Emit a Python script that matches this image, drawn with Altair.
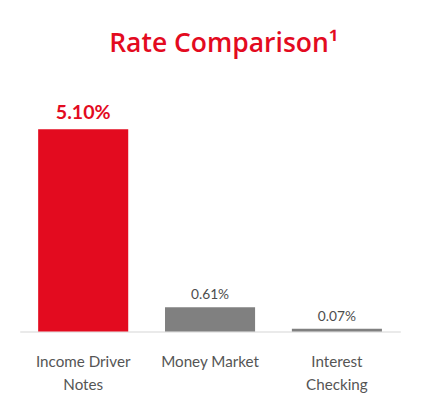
import altair as alt
import pandas as pd

categories = ["Income Driver\nNotes", "Money Market", "Interest\nChecking"]
rates = [5.10, 0.61, 0.07]
rate_labels = ["5.10%", "0.61%", "0.07%"]
bar_colors = ["#E30B1F", "#808080", "#808080"]

df = pd.DataFrame({
    "cat": categories,
    "rate": rates,
    "label": rate_labels,
    "bcolor": bar_colors,
    "order": [0, 1, 2],
})

FONT = "Lato"

x = alt.X("cat:N", sort=categories, title=None,
          scale=alt.Scale(paddingInner=0.29, paddingOuter=0.145),
          axis=alt.Axis(labelExpr="split(datum.label, '\\n')", labelAngle=0,
                        labelFontSize=15.5, labelColor="#555555", labelFont=FONT,
                        labelPadding=24, labelLineHeight=23, ticks=False,
                        domainColor="#e3e3e3", domainWidth=1.5, labelBaseline="top"))
y = alt.Y("rate:Q", scale=alt.Scale(domain=[0, 6], nice=False), axis=None)

bars = alt.Chart(df).mark_bar().encode(
    x=x, y=y, color=alt.Color("bcolor:N", scale=None)
)

small = alt.Chart(df[df["order"] > 0]).mark_text(
    baseline="alphabetic", dy=-8, fontSize=14, font=FONT, color="#4d4d4d"
).encode(x=x, y=y, text="label:N")

big = alt.Chart(df[df["order"] == 0]).mark_text(
    baseline="alphabetic", dy=-11, fontSize=20, font=FONT, fontWeight="bold", color="#E30B1F"
).encode(x=x, y=y, text="label:N")

chart = alt.layer(bars, small, big).properties(
    width=388, height=242.4,
    title=alt.TitleParams("Rate Comparison¹", font="Open Sans", fontSize=27, fontWeight=600,
                          color="#E30B1F", anchor="middle", dx=14, offset=16, baseline="alphabetic"),
    autosize=alt.AutoSizeParams(type="none"),
    padding={"left": 12, "top": 83.6, "right": 17, "bottom": 60},
).configure_view(stroke=None)

chart.save("out.html", embed_options={"renderer": "svg", "actions": False})
